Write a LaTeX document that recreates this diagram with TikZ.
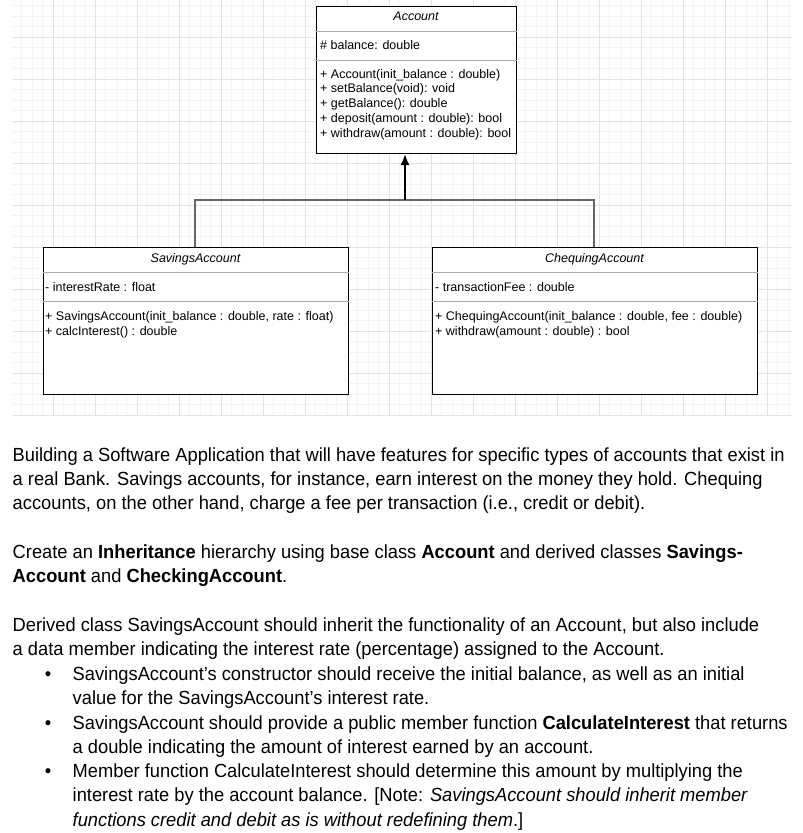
\documentclass[tikz,border=0pt]{standalone}
\usepackage{fontspec}
\setmainfont{Liberation Sans}
\newfontfamily\bodyfont[FakeStretch=0.963]{Liberation Sans}
\usetikzlibrary{arrows.meta, positioning}
\definecolor{gridmajor}{gray}{0.89}
\definecolor{gridminor}{gray}{0.955}
\definecolor{sepgray}{gray}{0.68}
\definecolor{treegray}{gray}{0.4}

\begin{document}
\begin{tikzpicture}[x=1pt, y=-1pt,
  cls/.style={rectangle, draw=black, fill=white, line width=1pt, anchor=north west, inner sep=0pt},
  sep/.style={draw=sepgray, line width=1pt},
  tree/.style={draw=treegray, line width=1.4pt},
  uml/.style={anchor=base west, inner sep=0pt, align=left, font=\fontsize{12.5}{14.75}\selectfont},
  clsname/.style={anchor=base, inner sep=0pt, font=\fontsize{12.5}{14.75}\selectfont\itshape},
  para/.style={anchor=base west, inner sep=0pt, align=left, font=\bodyfont\fontsize{19}{24.25}\selectfont},
  dot/.style={anchor=base, inner sep=0pt, font=\bodyfont\fontsize{19}{24.25}\selectfont},
  >={Latex[length=11pt, width=9pt]}]
\useasboundingbox (0,0) rectangle (803,833);

% grid background
\foreach \j in {1,...,40} \draw[gridminor, line width=1pt] (12,-5+10.5*\j) -- (792,-5+10.5*\j);
\foreach \i in {1,...,74} \draw[gridminor, line width=1pt] (11+10.5*\i,0) -- (11+10.5*\i,416);
\foreach \j in {1,...,10} \draw[gridmajor, line width=1pt] (12,-5+42*\j) -- (792,-5+42*\j);
\foreach \i in {1,...,18} \draw[gridmajor, line width=1pt] (11+42*\i,0) -- (11+42*\i,416);

% classes
\node[cls, minimum width=200, minimum height=147] (acc) at (316,6) {};
\node[cls, minimum width=305, minimum height=147] (sav) at (43,247) {};
\node[cls, minimum width=325, minimum height=147] (chq) at (432,247) {};
\draw[sep] (acc.west |- 0,31) -- (acc.east |- 0,31);
\draw[sep] (acc.west |- 0,60) -- (acc.east |- 0,60);
\draw[sep] (sav.west |- 0,272) -- (sav.east |- 0,272);
\draw[sep] (sav.west |- 0,301) -- (sav.east |- 0,301);
\draw[sep] (chq.west |- 0,272) -- (chq.east |- 0,272);
\draw[sep] (chq.west |- 0,301) -- (chq.east |- 0,301);

% multi-line nodes sit on the baseline of their last line
\node[clsname] (accname) at (416,20.5) {Account};
\node[uml] (accattr) at (320,49.5) {\# balance: double};
\node[uml] (accops) at (320,137) {+ Account(init\_balance : double)\\+ setBalance(void): void\\+ getBalance(): double\\+ deposit(amount : double): bool\\+ withdraw(amount : double): bool};

\node[clsname] (savname) at (195.5,262.5) {SavingsAccount};
\node[uml] (savattr) at (45,291.5) {- interestRate : float};
\node[uml] (savops) at (45,335.25) {+ SavingsAccount(init\_balance : double, rate : float)\\+ calcInterest() : double};

\node[clsname] (chqname) at (594.5,262.5) {ChequingAccount};
\node[uml] (chqattr) at (435,291.5) {- transactionFee : double};
\node[uml] (chqops) at (435,335.25) {+ ChequingAccount(init\_balance : double, fee : double)\\+ withdraw(amount : double) : bool};

% inheritance
\coordinate (fork) at (405,200);
\draw[tree] (sav.north -| 195,0) |- (fork) -| (chq.north -| 594,0);
\draw[->, line width=2pt] (fork) -- (acc.south -| fork);

% text
\node[para] (intro) at (12.5,509.5) {Building a Software Application that will have features for specific types of accounts that exist in\\a real Bank. Savings accounts, for instance, earn interest on the money they hold. Chequing\\accounts, on the other hand, charge a fee per transaction (i.e., credit or debit).};
\node[para] (task) at (12.5,582.75) {Create an \textbf{Inheritance} hierarchy using base class \textbf{Account} and derived classes \textbf{Savings-}\\\textbf{Account} and \textbf{CheckingAccount}.};
\node[para] (derived) at (12.5,655.75) {Derived class SavingsAccount should inherit the functionality of an Account, but also include\\a data member indicating the interest rate (percentage) assigned to the Account.};
\node[para] (item1) at (72.5,704.75) {SavingsAccount’s constructor should receive the initial balance, as well as an initial\\value for the SavingsAccount’s interest rate.};
\node[para] (item2) at (72.5,753.25) {SavingsAccount should provide a public member function \textbf{CalculateInterest} that returns\\a double indicating the amount of interest earned by an account.};
\node[para] (item3) at (72.5,826) {Member function CalculateInterest should determine this amount by multiplying the\\interest rate by the account balance. [Note: \textit{SavingsAccount should inherit member}\\\textit{functions credit and debit as is without redefining them}.]};
\node[dot] (dot1) at (48,680.5) {\textbullet};
\node[dot] (dot2) at (48,729) {\textbullet};
\node[dot] (dot3) at (48,777.5) {\textbullet};
\end{tikzpicture}
\end{document}
